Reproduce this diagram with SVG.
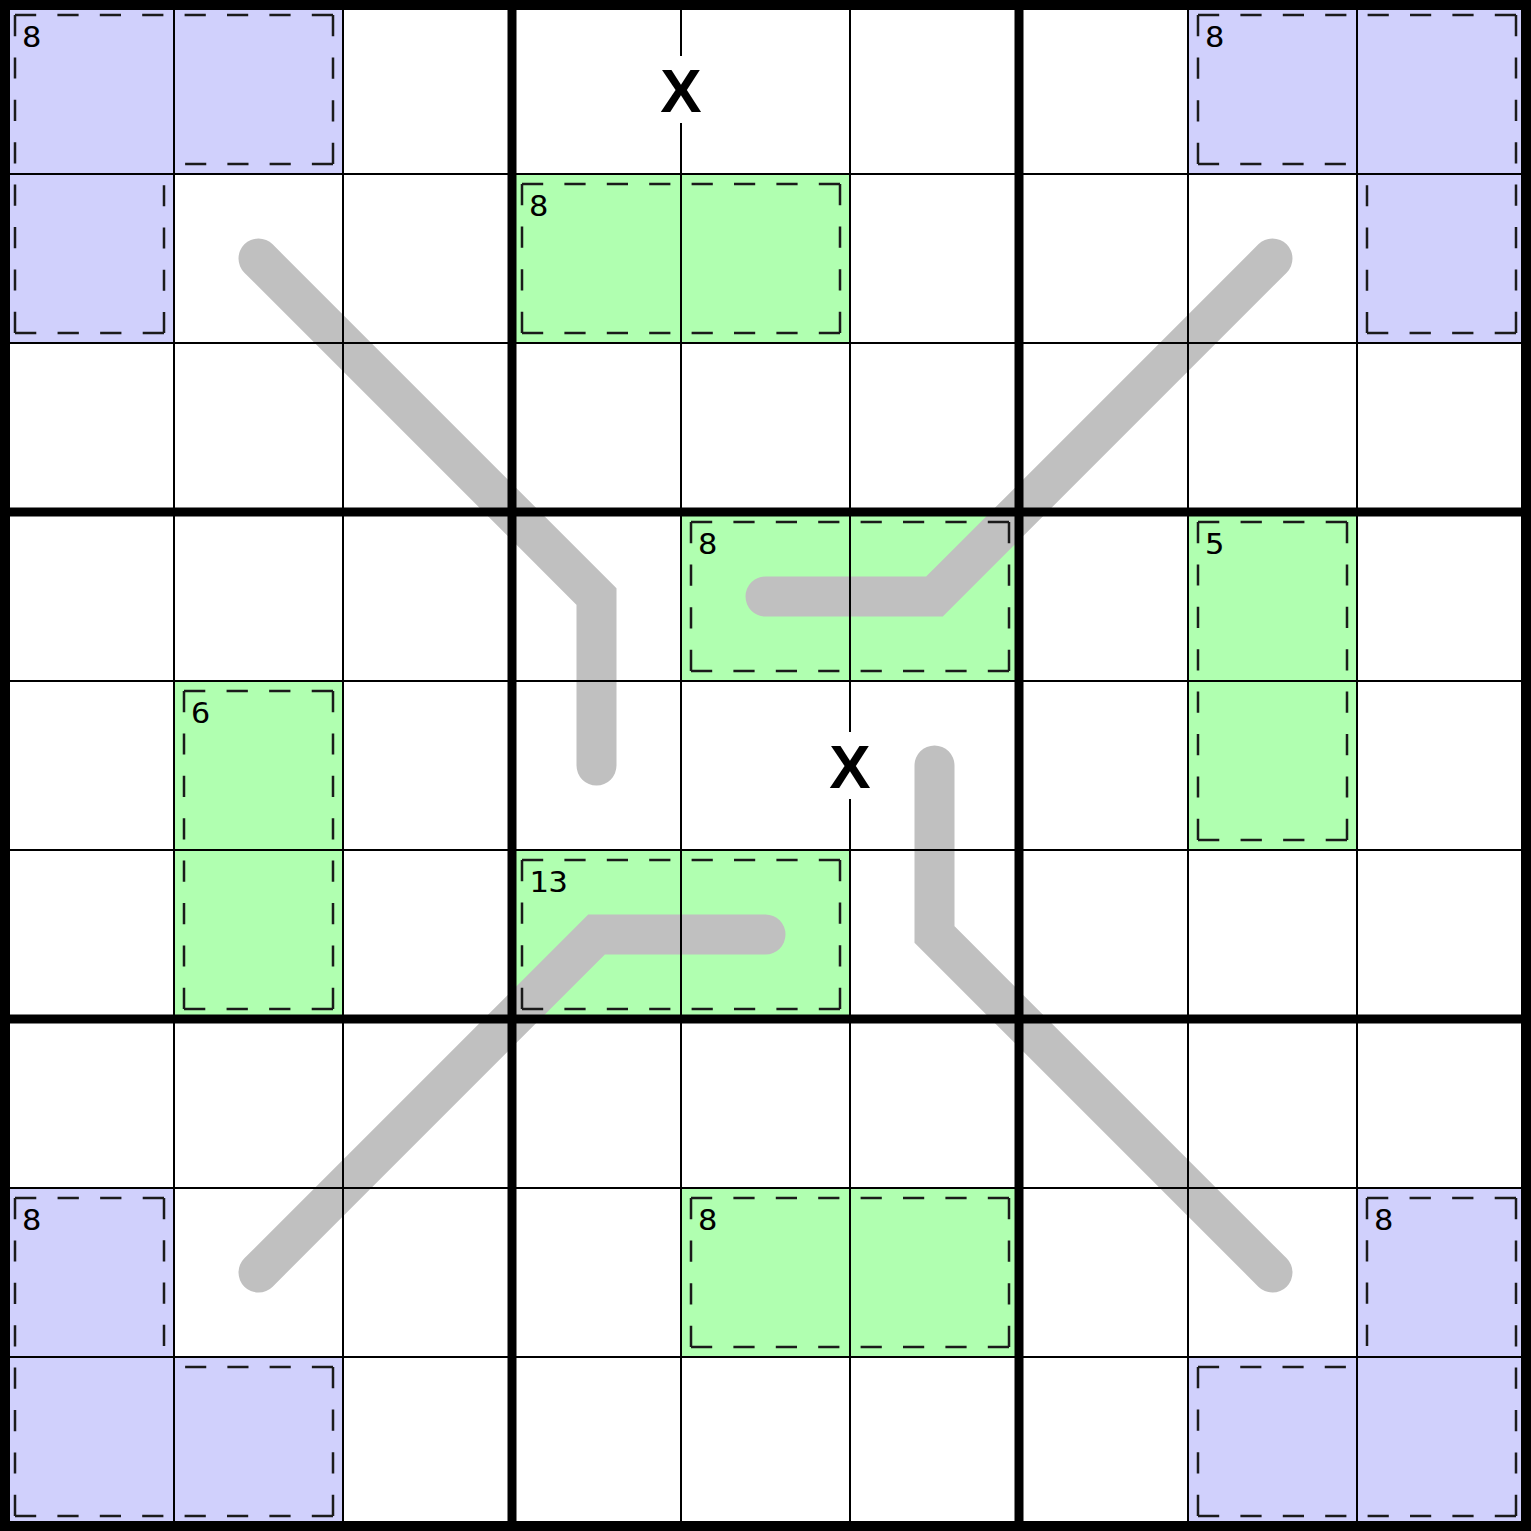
<svg xmlns="http://www.w3.org/2000/svg" width="1531" height="1531" viewBox="0 0 1531 1531">
<style>
.blue{fill:#d0d0fc}
.green{fill:#b0ffb0}
.cg path{fill:none;stroke:#1a1a1a;stroke-width:2.5}
.k15{stroke-dasharray:21.2 21.2}
.k7{stroke-dasharray:21.2857 21.2857}
.k8{stroke-dasharray:21.125 21.125}
.lbl{font-family:"DejaVu Sans Mono",monospace;font-size:28px;fill:#000}
.gl{fill:none;stroke:#c0c0c0;stroke-width:40;stroke-linecap:round;stroke-linejoin:miter}
.thin{stroke:#000;stroke-width:2;fill:none}
.thick{stroke:#000;stroke-width:9;fill:none}
.xm{font-family:"Liberation Sans",Arial,sans-serif;font-weight:bold;font-size:62px;text-anchor:middle;fill:#000}
</style>
<rect x="0" y="0" width="1531" height="1531" fill="#fff"/>
<g id="fills">
<rect class="blue" x="5" y="5" width="338" height="169"/>
<rect class="blue" x="5" y="174" width="169" height="169"/>
<rect class="blue" x="1188" y="5" width="338" height="169"/>
<rect class="blue" x="1357" y="174" width="169" height="169"/>
<rect class="blue" x="5" y="1188" width="169" height="169"/>
<rect class="blue" x="5" y="1357" width="338" height="169"/>
<rect class="blue" x="1357" y="1188" width="169" height="169"/>
<rect class="blue" x="1188" y="1357" width="338" height="169"/>
<rect class="green" x="512" y="174" width="338" height="169"/>
<rect class="green" x="681" y="512" width="338" height="169"/>
<rect class="green" x="1188" y="512" width="169" height="338"/>
<rect class="green" x="174" y="681" width="169" height="338"/>
<rect class="green" x="512" y="850" width="338" height="169"/>
<rect class="green" x="681" y="1188" width="338" height="169"/>
</g>
<g id="connectors">
<path class="gl" d="M258.5,258.5 L596.5,596.5 L596.5,765.5"/>
<path class="gl" d="M1272.5,258.5 L934.5,596.5 L765.5,596.5"/>
<path class="gl" d="M1272.5,1272.5 L934.5,934.5 L934.5,765.5"/>
<path class="gl" d="M258.5,1272.5 L596.5,934.5 L765.5,934.5"/>
</g>
<g id="grid">
<path class="thin" d="M174,5V1526M343,5V1526M681,5V56M681,123V1526M850,5V732M850,799V1526M1188,5V1526M1357,5V1526M5,174H1526M5,343H1526M5,681H1526M5,850H1526M5,1188H1526M5,1357H1526"/>
<path class="thick" d="M512,5V1526M1019,5V1526M5,512H1526M5,1019H1526"/>
<rect x="5" y="5" width="1521" height="1521" fill="none" stroke="#000" stroke-width="10"/>
</g>
<g id="cage-a" class="cg">
<path class="k15" d="M15,15H333"/><path class="k7" d="M333,15V164"/><path class="k8" d="M333,164H164"/><path class="k8" d="M164,333V164"/><path class="k7" d="M164,333H15"/><path class="k15" d="M15,333V15"/>
<text class="lbl" transform="translate(22,47) scale(1.15,1)">8</text>
</g>
<g id="cage-b" class="cg">
<path class="k15" d="M1198,15H1516"/><path class="k15" d="M1516,15V333"/><path class="k7" d="M1516,333H1367"/><path class="k8" d="M1367,333V164"/><path class="k8" d="M1198,164H1367"/><path class="k7" d="M1198,164V15"/>
<text class="lbl" transform="translate(1205,47) scale(1.15,1)">8</text>
</g>
<g id="cage-c" class="cg">
<path class="k7" d="M15,1198H164"/><path class="k8" d="M164,1198V1367"/><path class="k8" d="M333,1367H164"/><path class="k7" d="M333,1367V1516"/><path class="k15" d="M333,1516H15"/><path class="k15" d="M15,1516V1198"/>
<text class="lbl" transform="translate(22,1230) scale(1.15,1)">8</text>
</g>
<g id="cage-d" class="cg">
<path class="k7" d="M1367,1198H1516"/><path class="k15" d="M1516,1198V1516"/><path class="k15" d="M1516,1516H1198"/><path class="k7" d="M1198,1516V1367"/><path class="k8" d="M1198,1367H1367"/><path class="k8" d="M1367,1198V1367"/>
<text class="lbl" transform="translate(1374,1230) scale(1.15,1)">8</text>
</g>
<g id="cage-e" class="cg">
<path class="k15" d="M522,184H840"/><path class="k7" d="M840,184V333"/><path class="k15" d="M840,333H522"/><path class="k7" d="M522,333V184"/>
<text class="lbl" transform="translate(529,216) scale(1.15,1)">8</text>
</g>
<g id="cage-f" class="cg">
<path class="k15" d="M691,522H1009"/><path class="k7" d="M1009,522V671"/><path class="k15" d="M1009,671H691"/><path class="k7" d="M691,671V522"/>
<text class="lbl" transform="translate(698,554) scale(1.15,1)">8</text>
</g>
<g id="cage-g" class="cg">
<path class="k15" d="M522,860H840"/><path class="k7" d="M840,860V1009"/><path class="k15" d="M840,1009H522"/><path class="k7" d="M522,1009V860"/>
<text class="lbl" transform="translate(529,892) scale(1.15,1)">13</text>
</g>
<g id="cage-h" class="cg">
<path class="k15" d="M691,1198H1009"/><path class="k7" d="M1009,1198V1347"/><path class="k15" d="M1009,1347H691"/><path class="k7" d="M691,1347V1198"/>
<text class="lbl" transform="translate(698,1230) scale(1.15,1)">8</text>
</g>
<g id="cage-i" class="cg">
<path class="k7" d="M1198,522H1347"/><path class="k15" d="M1347,522V840"/><path class="k7" d="M1347,840H1198"/><path class="k15" d="M1198,840V522"/>
<text class="lbl" transform="translate(1205,554) scale(1.15,1)">5</text>
</g>
<g id="cage-j" class="cg">
<path class="k7" d="M184,691H333"/><path class="k15" d="M333,691V1009"/><path class="k7" d="M333,1009H184"/><path class="k15" d="M184,1009V691"/>
<text class="lbl" transform="translate(191,723) scale(1.15,1)">6</text>
</g>
<g id="x-top">
<text class="xm" x="681" y="112">X</text>
</g>
<g id="x-mid">
<text class="xm" x="850" y="788">X</text>
</g>
</svg>
